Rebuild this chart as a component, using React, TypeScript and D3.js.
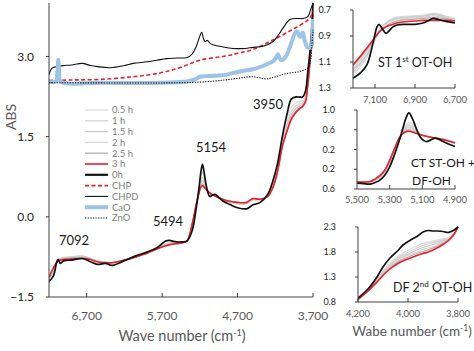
import React from 'react';
import * as d3 from 'd3';

// legend order
const legendLabels = ['0.5 h', '1 h', '1.5 h', '2 h', '2.5 h', '3 h', '0h', 'CHP', 'CHPD', 'CaO', 'ZnO'];

// ---- main spectra (ABS vs wave number) ----
const mainWn = [7200, 7140, 7100, 7080, 7050, 7000, 6900, 6760, 6650, 6560, 6450, 6370, 6200, 6050, 5900, 5770, 5650, 5600, 5550, 5450, 5370, 5300, 5250, 5210, 5185, 5165, 5140, 5110, 5070, 5040, 5000, 4900, 4800, 4700, 4580, 4500, 4400, 4300, 4230, 4170, 4100, 4040, 3990, 3940, 3880, 3840, 3800, 3770, 3740, 3720, 3700];
const main0h = [-1.21, -1.10, -0.86, -0.80, -0.87, -0.82, -0.81, -0.78, -0.84, -0.89, -0.87, -0.91, -0.82, -0.73, -0.66, -0.58, -0.45, -0.44, -0.46, -0.47, -0.45, -0.25, 0.15, 0.55, 0.85, 0.98, 0.80, 0.55, 0.38, 0.40, 0.42, 0.30, 0.23, 0.17, 0.15, 0.22, 0.27, 0.42, 0.68, 1.0, 1.55, 1.95, 2.2, 2.24, 2.24, 2.24, 2.35, 2.7, 3.1, 3.45, 4.0];
const main05h = [-1.17, -1.02, -0.84, -0.79, -0.79, -0.77, -0.76, -0.74, -0.79, -0.84, -0.85, -0.87, -0.81, -0.74, -0.67, -0.59, -0.50, -0.48, -0.48, -0.48, -0.45, -0.18, 0.19, 0.52, 0.75, 0.84, 0.72, 0.54, 0.43, 0.42, 0.41, 0.32, 0.27, 0.24, 0.24, 0.31, 0.31, 0.40, 0.62, 0.95, 1.48, 1.82, 2.05, 2.12, 2.16, 2.18, 2.27, 2.6, 3.02, 3.42, 3.95];
const main1h = [-1.16, -1.00, -0.84, -0.79, -0.78, -0.76, -0.75, -0.73, -0.78, -0.83, -0.85, -0.86, -0.81, -0.74, -0.67, -0.59, -0.52, -0.50, -0.49, -0.48, -0.45, -0.16, 0.2, 0.5, 0.68, 0.74, 0.66, 0.53, 0.44, 0.42, 0.40, 0.32, 0.28, 0.25, 0.25, 0.32, 0.32, 0.39, 0.6, 0.92, 1.44, 1.75, 1.96, 2.06, 2.11, 2.13, 2.22, 2.55, 2.98, 3.4, 3.9];
const main15h = [-1.15, -0.98, -0.85, -0.80, -0.78, -0.76, -0.75, -0.74, -0.78, -0.83, -0.85, -0.86, -0.81, -0.74, -0.67, -0.60, -0.52, -0.50, -0.50, -0.49, -0.45, -0.15, 0.21, 0.48, 0.64, 0.68, 0.62, 0.52, 0.44, 0.42, 0.40, 0.33, 0.28, 0.26, 0.26, 0.33, 0.32, 0.39, 0.58, 0.9, 1.41, 1.7, 1.9, 2.01, 2.07, 2.1, 2.19, 2.5, 2.95, 3.38, 3.88];
const main2h = [-1.14, -0.97, -0.85, -0.80, -0.79, -0.77, -0.76, -0.75, -0.79, -0.83, -0.85, -0.86, -0.81, -0.75, -0.68, -0.60, -0.53, -0.51, -0.50, -0.49, -0.45, -0.14, 0.21, 0.47, 0.61, 0.64, 0.59, 0.51, 0.45, 0.42, 0.39, 0.33, 0.29, 0.27, 0.26, 0.33, 0.33, 0.38, 0.57, 0.88, 1.38, 1.66, 1.86, 1.97, 2.04, 2.08, 2.17, 2.48, 2.92, 3.36, 3.85];
const main25h = [-1.13, -0.96, -0.86, -0.81, -0.80, -0.78, -0.77, -0.76, -0.79, -0.84, -0.86, -0.86, -0.81, -0.75, -0.68, -0.60, -0.54, -0.52, -0.51, -0.49, -0.45, -0.13, 0.22, 0.46, 0.58, 0.61, 0.57, 0.5, 0.45, 0.42, 0.39, 0.33, 0.29, 0.27, 0.27, 0.34, 0.33, 0.38, 0.56, 0.86, 1.36, 1.64, 1.84, 1.95, 2.03, 2.07, 2.16, 2.46, 2.91, 3.35, 3.82];
const main3h = [-1.13, -0.95, -0.86, -0.82, -0.81, -0.80, -0.79, -0.78, -0.80, -0.84, -0.86, -0.86, -0.81, -0.75, -0.68, -0.60, -0.54, -0.52, -0.51, -0.49, -0.45, -0.12, 0.22, 0.45, 0.56, 0.58, 0.55, 0.50, 0.45, 0.42, 0.39, 0.33, 0.29, 0.27, 0.27, 0.34, 0.33, 0.38, 0.55, 0.85, 1.35, 1.62, 1.82, 1.93, 2.02, 2.06, 2.15, 2.45, 2.9, 3.35, 3.8];

// reference spectra
const chpWn = [7200, 6900, 6530, 6085, 5730, 5465, 5200, 4845, 4668, 4496, 4230, 3965, 3788, 3740, 3700];
const chpAbs = [2.55, 2.56, 2.57, 2.62, 2.69, 2.79, 2.93, 3.01, 3.07, 3.13, 3.31, 3.51, 3.66, 3.72, 3.85];
const chpdWn = [7200, 7160, 7100, 7000, 6900, 6760, 6650, 6560, 6390, 6200, 6085, 5900, 5770, 5640, 5500, 5370, 5300, 5250, 5200, 5176, 5150, 5132, 5100, 5060, 5026, 4900, 4760, 4600, 4496, 4363, 4230, 4150, 4098, 4005, 3900, 3832, 3766, 3730, 3700];
const chpdAbs = [2.66, 2.78, 2.81, 2.83, 2.84, 2.87, 2.83, 2.81, 2.79, 2.83, 2.87, 2.90, 2.93, 2.96, 2.97, 2.98, 3.05, 3.18, 3.38, 3.45, 3.32, 3.28, 3.3, 3.24, 3.22, 3.18, 3.15, 3.15, 3.17, 3.19, 3.28, 3.42, 3.53, 3.69, 3.71, 3.71, 3.75, 3.88, 4.0];
const caoWn = [7200, 7110, 7090, 7077, 7065, 7045, 6500, 5700, 5370, 5250, 5200, 5000, 4845, 4670, 4496, 4320, 4230, 4190, 4164, 4140, 4115, 4060, 4000, 3950, 3916, 3890, 3872, 3850, 3836, 3810, 3780, 3740, 3715, 3705, 3700];
const caoAbs = [2.53, 2.53, 2.7, 2.94, 2.7, 2.53, 2.51, 2.51, 2.53, 2.58, 2.62, 2.64, 2.66, 2.72, 2.76, 2.85, 2.91, 2.98, 3.04, 2.96, 2.93, 3.0, 3.2, 3.4, 3.47, 3.42, 3.36, 3.42, 3.45, 3.3, 3.18, 3.16, 3.22, 3.5, 3.7];
const znoWn = [7200, 5400, 5000, 4760, 4600, 4496, 4400, 4320, 4200, 4053, 3876, 3766, 3730, 3715, 3700];
const znoAbs = [2.51, 2.51, 2.54, 2.58, 2.61, 2.62, 2.60, 2.58, 2.62, 2.68, 2.72, 2.79, 2.95, 3.2, 3.5];

const mainXTicks = [6700, 5700, 4700, 3700];
const mainYTicks = [-1.5, 0, 1.5, 3.0];
const peakLabels = ['7092', '5494', '5154', '3950'];

// ---- inset 1: ST 1st OT-OH ----
const in1Wn = [7210, 7170, 7140, 7120, 7105, 7090, 7080, 7065, 7045, 7030, 7010, 6990, 6950, 6900, 6860, 6830, 6810, 6780, 6740, 6700];
const in1_0h = [1.225, 1.18, 1.12, 1.02, 0.92, 0.83, 0.81, 0.84, 0.88, 0.86, 0.83, 0.815, 0.81, 0.81, 0.80, 0.78, 0.765, 0.775, 0.79, 0.80];
const in1_05h = [1.2, 1.13, 1.06, 1.0, 0.95, 0.9, 0.87, 0.83, 0.8, 0.78, 0.765, 0.755, 0.75, 0.745, 0.74, 0.73, 0.725, 0.73, 0.75, 0.765];
const in1_1h = [1.18, 1.11, 1.05, 0.99, 0.94, 0.89, 0.86, 0.83, 0.8, 0.785, 0.77, 0.76, 0.755, 0.75, 0.745, 0.735, 0.73, 0.735, 0.755, 0.77];
const in1_15h = [1.16, 1.1, 1.04, 0.98, 0.94, 0.89, 0.86, 0.83, 0.805, 0.79, 0.775, 0.765, 0.76, 0.755, 0.75, 0.74, 0.735, 0.74, 0.76, 0.775];
const in1_2h = [1.15, 1.08, 1.02, 0.97, 0.93, 0.89, 0.86, 0.83, 0.81, 0.795, 0.78, 0.77, 0.765, 0.76, 0.755, 0.75, 0.745, 0.75, 0.765, 0.775];
const in1_25h = [1.13, 1.06, 1.0, 0.96, 0.92, 0.89, 0.87, 0.845, 0.825, 0.81, 0.795, 0.785, 0.775, 0.77, 0.765, 0.76, 0.76, 0.76, 0.77, 0.78];
const in1_3h = [1.12, 1.05, 0.99, 0.95, 0.92, 0.89, 0.87, 0.85, 0.83, 0.82, 0.81, 0.80, 0.79, 0.785, 0.78, 0.78, 0.78, 0.78, 0.78, 0.785];
const in1XTicks = [7100, 6900, 6700];
const in1YTicks = [0.7, 0.9, 1.1, 1.3];

// ---- inset 2: CT ST-OH + DF-OH ----
const in2Wn = [5500, 5460, 5420, 5390, 5360, 5330, 5300, 5270, 5240, 5220, 5200, 5182, 5160, 5140, 5114, 5090, 5073, 5050, 5022, 5000, 4973, 4940, 4900];
const in2_0h = [-0.48, -0.49, -0.50, -0.47, -0.42, -0.32, -0.15, 0.1, 0.39, 0.62, 0.84, 0.94, 0.82, 0.65, 0.46, 0.38, 0.36, 0.39, 0.43, 0.41, 0.36, 0.31, 0.26];
const in2_05h = [-0.47, -0.48, -0.47, -0.43, -0.37, -0.26, -0.07, 0.18, 0.42, 0.58, 0.7, 0.75, 0.7, 0.62, 0.53, 0.48, 0.46, 0.45, 0.44, 0.43, 0.41, 0.38, 0.35];
const in2_1h = [-0.47, -0.47, -0.46, -0.42, -0.36, -0.25, -0.05, 0.2, 0.43, 0.56, 0.66, 0.7, 0.66, 0.6, 0.52, 0.48, 0.46, 0.45, 0.44, 0.43, 0.41, 0.38, 0.35];
const in2_15h = [-0.47, -0.47, -0.46, -0.41, -0.35, -0.24, -0.04, 0.21, 0.43, 0.55, 0.63, 0.66, 0.63, 0.58, 0.52, 0.48, 0.46, 0.45, 0.44, 0.43, 0.41, 0.38, 0.34];
const in2_2h = [-0.46, -0.46, -0.45, -0.41, -0.34, -0.23, -0.03, 0.22, 0.44, 0.54, 0.6, 0.62, 0.6, 0.56, 0.51, 0.48, 0.47, 0.45, 0.44, 0.42, 0.4, 0.38, 0.34];
const in2_25h = [-0.46, -0.46, -0.45, -0.40, -0.33, -0.22, -0.02, 0.22, 0.44, 0.53, 0.58, 0.59, 0.57, 0.55, 0.51, 0.48, 0.47, 0.45, 0.43, 0.42, 0.4, 0.37, 0.33];
const in2_3h = [-0.46, -0.46, -0.45, -0.40, -0.33, -0.22, -0.02, 0.22, 0.44, 0.52, 0.56, 0.57, 0.55, 0.53, 0.5, 0.48, 0.47, 0.45, 0.43, 0.42, 0.4, 0.37, 0.33];
const in2XTicks = [5500, 5300, 5100, 4900];
const in2YTicks = [-0.6, -0.2, 0.2, 0.6, 1.0];

// ---- inset 3: DF 2nd OT-OH ----
const in3Wn = [4200, 4160, 4124, 4100, 4072, 4040, 4020, 3990, 3964, 3940, 3920, 3900, 3880, 3860, 3840, 3832, 3815, 3800];
const in3_0h = [0.88, 1.06, 1.3, 1.5, 1.68, 1.83, 1.94, 2.04, 2.11, 2.2, 2.23, 2.22, 2.22, 2.21, 2.19, 2.2, 2.24, 2.3];
const in3_05h = [0.87, 1.05, 1.25, 1.42, 1.58, 1.71, 1.78, 1.86, 1.92, 1.97, 2.0, 2.02, 2.04, 2.06, 2.08, 2.1, 2.18, 2.3];
const in3_1h = [0.86, 1.04, 1.24, 1.4, 1.55, 1.68, 1.74, 1.82, 1.88, 1.93, 1.96, 1.99, 2.01, 2.04, 2.07, 2.09, 2.17, 2.3];
const in3_15h = [0.86, 1.04, 1.23, 1.38, 1.52, 1.65, 1.71, 1.78, 1.84, 1.89, 1.92, 1.95, 1.98, 2.02, 2.06, 2.08, 2.17, 2.3];
const in3_2h = [0.85, 1.03, 1.22, 1.36, 1.5, 1.62, 1.68, 1.75, 1.8, 1.85, 1.88, 1.91, 1.95, 2.0, 2.05, 2.08, 2.17, 2.3];
const in3_25h = [0.85, 1.03, 1.21, 1.35, 1.48, 1.6, 1.65, 1.72, 1.77, 1.81, 1.84, 1.88, 1.92, 1.98, 2.04, 2.07, 2.16, 2.3];
const in3_3h = [0.85, 1.02, 1.2, 1.33, 1.46, 1.57, 1.62, 1.68, 1.73, 1.77, 1.8, 1.84, 1.89, 1.95, 2.02, 2.06, 2.16, 2.3];
const in3XTicks = [4200, 4000, 3800];
const in3YTicks = [0.8, 1.3, 1.8, 2.3];

type Style = { stroke: string; width: number; dash?: string };
const styles: Record<string, Style> = {
  '0.5 h': { stroke: '#dcdcdc', width: 1.3 },
  '1 h': { stroke: '#d2d2d2', width: 1.3 },
  '1.5 h': { stroke: '#cacaca', width: 1.3 },
  '2 h': { stroke: '#d6d6d6', width: 1.3 },
  '2.5 h': { stroke: '#b0b0b0', width: 1.3 },
  '3 h': { stroke: '#e8212b', width: 1.6 },
  '0h': { stroke: '#111111', width: 1.7 },
  'CHP': { stroke: '#e8212b', width: 1.6, dash: '4,2.5' },
  'CHPD': { stroke: '#111111', width: 1.1 },
  'CaO': { stroke: '#9dc3e6', width: 4 },
  'ZnO': { stroke: '#111111', width: 1.1, dash: '1.3,1.3' },
};

const FONT = 'Lato, "Open Sans", sans-serif';
const fmtComma = d3.format(',');

type Series = { label: string; wn: number[]; v: number[] };

function SpectrumPanel(props: {
  id: string;
  x: d3.ScaleLinear<number, number>;
  y: d3.ScaleLinear<number, number>;
  series: Series[];
  xTicks: number[];
  yTicks: number[];
  yFmt: (v: number) => string;
  yFont: number;
  xFont: number;
  xLabelY: number;
  yLabelColor: string;
}) {
  const { id, x, y, series, xTicks, yTicks, yFmt, yFont, xFont, xLabelY, yLabelColor } = props;
  const [x0, x1] = x.range();
  const [yb, yt] = y.range();
  const line = d3.line<[number, number]>()
    .x(d => x(d[0]))
    .y(d => y(d[1]))
    .curve(d3.curveCatmullRom.alpha(0.5));
  return (
    <g>
      <defs>
        <clipPath id={id}>
          <rect x={x0} y={Math.min(yt, yb) - 1} width={x1 - x0 + 1} height={Math.abs(yb - yt) + 2} />
        </clipPath>
      </defs>
      <g clipPath={`url(#${id})`}>
        {series.map(s => {
          const st = styles[s.label];
          const pts = s.wn.map((w, i) => [w, s.v[i]] as [number, number]);
          return (
            <path key={s.label} d={line(pts) || ''} fill="none" stroke={st.stroke}
              strokeWidth={st.width} strokeDasharray={st.dash} strokeLinejoin="round" />
          );
        })}
      </g>
      <line x1={x0} x2={x0} y1={Math.min(yt, yb)} y2={Math.max(yt, yb)} stroke="#404040" strokeWidth={1} />
      <line x1={x0} x2={x1} y1={Math.max(yt, yb)} y2={Math.max(yt, yb)} stroke="#404040" strokeWidth={1} />
      {xTicks.map(t => (
        <g key={t}>
          <line x1={x(t)} x2={x(t)} y1={Math.max(yt, yb)} y2={Math.max(yt, yb) - 4} stroke="#404040" />
          <text x={x(t)} y={xLabelY} textAnchor="middle" fontSize={xFont} fill="#595959" fontFamily={FONT}>
            {fmtComma(t)}
          </text>
        </g>
      ))}
      {yTicks.map(t => (
        <g key={t}>
          <line x1={x0 - 3} x2={x0} y1={y(t)} y2={y(t)} stroke="#404040" />
          <text x={x0 - (yFont > 10 ? 15 : 22)} y={y(t) + yFont * 0.35} textAnchor="end" fontSize={yFont}
            fill={yLabelColor} fontFamily={FONT}>
            {yFmt(t)}
          </text>
        </g>
      ))}
    </g>
  );
}

const timeSeries = (wn: number[], arrs: number[][]): Series[] =>
  ['0.5 h', '1 h', '1.5 h', '2 h', '2.5 h', '3 h', '0h'].map((label, i) => ({ label, wn, v: arrs[i] }));

export default function App() {
  const W = 474, H = 351;

  const mx = d3.scaleLinear().domain([7200, 3700]).range([49, 313]);
  const my = d3.scaleLinear().domain([-1.5, 4.0]).range([297, 3]);
  const mainSeries: Series[] = [
    ...timeSeries(mainWn, [main05h, main1h, main15h, main2h, main25h, main3h, main0h]),
    { label: 'CHP', wn: chpWn, v: chpAbs },
    { label: 'CHPD', wn: chpdWn, v: chpdAbs },
    { label: 'CaO', wn: caoWn, v: caoAbs },
    { label: 'ZnO', wn: znoWn, v: znoAbs },
  ];

  const i1x = d3.scaleLinear().domain([7210, 6700]).range([353, 455]);
  const i1y = d3.scaleLinear().domain([1.3, 0.7]).range([88, 10]);
  const i2x = d3.scaleLinear().domain([5500, 4900]).range([357, 455]);
  const i2y = d3.scaleLinear().domain([-0.6, 1.0]).range([189, 110]);
  const i3x = d3.scaleLinear().domain([4200, 3800]).range([358, 458]);
  const i3y = d3.scaleLinear().domain([0.8, 2.3]).range([302, 227]);

  const peakPos: [number, number][] = [[74, 245], [168, 226], [211, 152], [268, 109]];

  return (
    <svg width={W} height={H} style={{ position: 'absolute', left: 0, top: 0, background: '#fff' }}>
      <rect width={W} height={H} fill="#fff" />
      <SpectrumPanel id="cm" x={mx} y={my} series={mainSeries} xTicks={mainXTicks} yTicks={mainYTicks}
        yFmt={d3.format('.1f')} yFont={12} xFont={12} xLabelY={320} yLabelColor="#262626" />
      <text transform="translate(16,117) rotate(-90)" textAnchor="middle" fontSize={14} fill="#595959" fontFamily={FONT}>ABS</text>
      <text x={182} y={341} textAnchor="middle" fontSize={14.5} fill="#595959" fontFamily={FONT}>
        Wave number (cm<tspan dy={-5} fontSize={9}>-1</tspan><tspan dy={5}>)</tspan>
      </text>
      {peakLabels.map((p, i) => (
        <text key={p} x={peakPos[i][0]} y={peakPos[i][1]} textAnchor="middle" fontSize={13} fill="#1a1a1a" fontFamily={FONT}>{p}</text>
      ))}
      {legendLabels.map((l, i) => {
        const st = styles[l];
        const ly = 110 + i * 10.8;
        return (
          <g key={l}>
            <line x1={85} x2={108} y1={ly} y2={ly} stroke={st.stroke} strokeWidth={l === '0h' ? 2.2 : st.width}
              strokeDasharray={st.dash} />
            <text x={112} y={ly + 3.3} fontSize={9.5} fill="#808080" fontFamily={FONT}>{l}</text>
          </g>
        );
      })}

      <SpectrumPanel id="c1" x={i1x} y={i1y}
        series={timeSeries(in1Wn, [in1_05h, in1_1h, in1_15h, in1_2h, in1_25h, in1_3h, in1_0h])}
        xTicks={in1XTicks} yTicks={in1YTicks} yFmt={d3.format('.1f')} yFont={9} xFont={9.5} xLabelY={103}
        yLabelColor="#262626" />
      <text x={378} y={67} fontSize={12.5} fill="#1a1a1a" fontFamily={FONT}>
        ST 1<tspan dy={-5} fontSize={8}>st</tspan><tspan dy={5}> OT-OH</tspan>
      </text>

      <SpectrumPanel id="c2" x={i2x} y={i2y}
        series={timeSeries(in2Wn, [in2_05h, in2_1h, in2_15h, in2_2h, in2_25h, in2_3h, in2_0h])}
        xTicks={in2XTicks.slice(1)} yTicks={in2YTicks} yFmt={v => d3.format('.1f')(Math.abs(v))} yFont={9}
        xFont={9.5} xLabelY={203} yLabelColor="#262626" />
      <text x={i2x(5500)} y={203} textAnchor="middle" fontSize={9.5} fill="#595959" fontFamily={FONT}>{fmtComma(in2XTicks[0])}</text>
      <text x={411} y={167} fontSize={12} fill="#1a1a1a" fontFamily={FONT}>CT ST-OH +</text>
      <text x={412} y={185} fontSize={12} fill="#1a1a1a" fontFamily={FONT}>DF-OH</text>

      <SpectrumPanel id="c3" x={i3x} y={i3y}
        series={timeSeries(in3Wn, [in3_05h, in3_1h, in3_15h, in3_2h, in3_25h, in3_3h, in3_0h])}
        xTicks={in3XTicks} yTicks={in3YTicks} yFmt={d3.format('.1f')} yFont={9} xFont={9.5} xLabelY={317}
        yLabelColor="#262626" />
      <text x={393} y={292} fontSize={12.5} fill="#1a1a1a" fontFamily={FONT}>
        DF 2<tspan dy={-5} fontSize={8}>nd</tspan><tspan dy={5}> OT-OH</tspan>
      </text>
      <text x={412} y={336} textAnchor="middle" fontSize={13.5} fill="#595959" fontFamily={FONT}>
        Wabe number (cm<tspan dy={-5} fontSize={8.5}>-1</tspan><tspan dy={5}>)</tspan>
      </text>
    </svg>
  );
}
